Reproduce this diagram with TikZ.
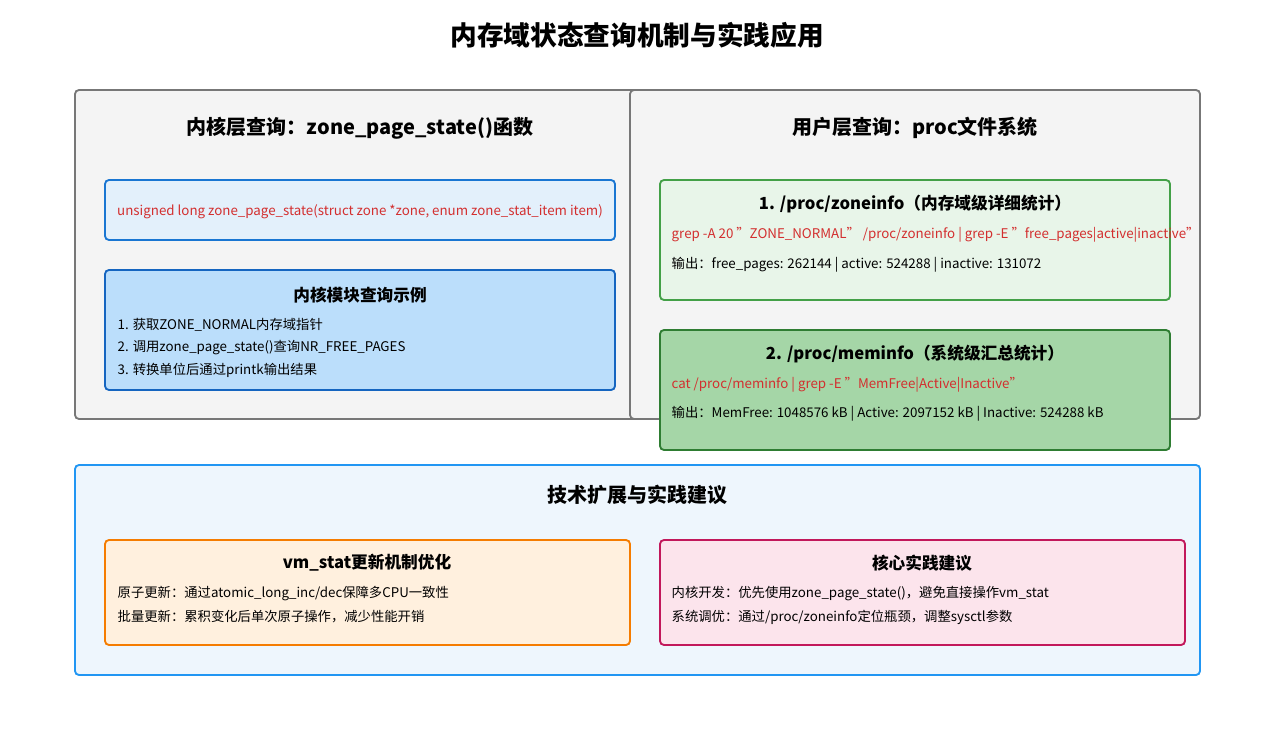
\documentclass[tikz,border=0pt]{standalone}
\usepackage{fontspec}
\setmainfont{Noto Sans CJK SC}
\definecolor{pbg}{HTML}{F4F4F4}\definecolor{pline}{HTML}{777777}
\definecolor{codebg}{HTML}{E3F0FB}\definecolor{codeln}{HTML}{1976D2}
\definecolor{bluebg}{HTML}{BBDEFB}\definecolor{blueln}{HTML}{1565C0}
\definecolor{g1bg}{HTML}{E8F5E9}\definecolor{g1ln}{HTML}{43A047}
\definecolor{g2bg}{HTML}{A5D6A7}\definecolor{g2ln}{HTML}{2E7D32}
\definecolor{botbg}{HTML}{EEF6FD}\definecolor{botln}{HTML}{2196F3}
\definecolor{orbg}{HTML}{FFF0DE}\definecolor{orln}{HTML}{F57C00}
\definecolor{pkbg}{HTML}{FCE4EC}\definecolor{pkln}{HTML}{C2185B}
\definecolor{codered}{HTML}{D32F2F}
\tikzset{box/.style={draw,rounded corners=3pt,line width=1.4pt},
 ttl/.style={font=\bfseries\fontsize{15}{18}\selectfont},
 sub/.style={font=\bfseries\fontsize{12.5}{15}\selectfont},
 body/.style={font=\fontsize{10}{12}\selectfont,anchor=west},
 code/.style={font=\fontsize{10}{12}\selectfont,text=codered}}
\begin{document}
\begin{tikzpicture}[x=0.75pt,y=-0.75pt]
\useasboundingbox (0,0) rectangle (1275,750);
\node[font=\bfseries\fontsize{20}{24}\selectfont] (title) at (637,35) {内存域状态查询机制与实践应用};
% left panel
\draw[box,fill=pbg,draw=pline] (75,90) rectangle (640,419);
\node[ttl] (lt) at (360,128) {内核层查询：zone\_page\_state()函数};
\draw[box,fill=codebg,draw=codeln] (105,180) rectangle (615,240);
\node[code] (sig) at (360,212) {unsigned long zone\_page\_state(struct zone *zone, enum zone\_stat\_item item)};
\draw[box,fill=bluebg,draw=blueln] (105,270) rectangle (615,390);
\node[sub] (ex) at (360,295) {内核模块查询示例};
\node[body] (e1) at (113,325) {1. 获取ZONE\_NORMAL内存域指针};
\node[body] (e2) at (113,348) {2. 调用zone\_page\_state()查询NR\_FREE\_PAGES};
\node[body] (e3) at (113,370) {3. 转换单位后通过printk输出结果};
% right panel
\draw[box,fill=pbg,draw=pline] (630,90) rectangle (1200,419);
\node[ttl] (rt) at (915,128) {用户层查询：proc文件系统};
\draw[box,fill=g1bg,draw=g1ln] (660,180) rectangle (1170,300);
\node[sub] (z) at (915,204) {1. /proc/zoneinfo（内存域级详细统计）};
\node[code,anchor=west] (zc) at (667,235) {grep -A 20 "ZONE\_NORMAL" /proc/zoneinfo | grep -E "free\_pages|active|inactive"};
\node[body] (zo) at (667,265) {输出：free\_pages: 262144 | active: 524288 | inactive: 131072};
\draw[box,fill=g2bg,draw=g2ln] (660,330) rectangle (1170,450);
\node[sub] (m) at (915,354) {2. /proc/meminfo（系统级汇总统计）};
\node[code,anchor=west] (mc) at (667,385) {cat /proc/meminfo | grep -E "MemFree|Active|Inactive"};
\node[body] (mo) at (667,414) {输出：MemFree: 1048576 kB | Active: 2097152 kB | Inactive: 524288 kB};
% bottom
\draw[box,fill=botbg,draw=botln] (75,465) rectangle (1200,675);
\node[ttl] (bt) at (637,495) {技术扩展与实践建议};
\draw[box,fill=orbg,draw=orln] (105,540) rectangle (630,645);
\node[sub] (vt) at (367,563) {vm\_stat更新机制优化};
\node[body] (v1) at (113,594) {原子更新：通过atomic\_long\_inc/dec保障多CPU一致性};
\node[body] (v2) at (113,617) {批量更新：累积变化后单次原子操作，减少性能开销};
\draw[box,fill=pkbg,draw=pkln] (660,540) rectangle (1185,645);
\node[sub] (kt) at (922,563) {核心实践建议};
\node[body] (k1) at (667,594) {内核开发：优先使用zone\_page\_state()，避免直接操作vm\_stat};
\node[body] (k2) at (667,617) {系统调优：通过/proc/zoneinfo定位瓶颈，调整sysctl参数};
\end{tikzpicture}
\end{document}
